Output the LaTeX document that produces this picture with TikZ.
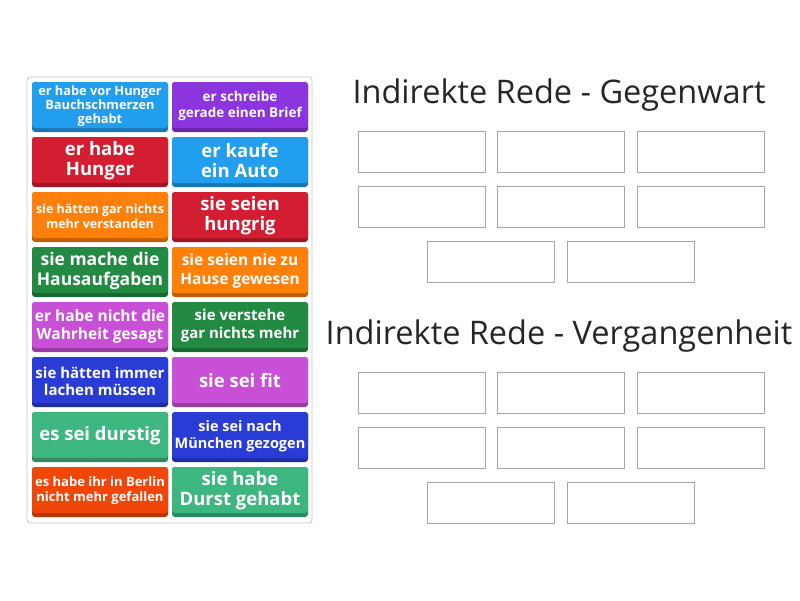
\documentclass[tikz,border=0pt]{standalone}
\usepackage{fontspec}
\setmainfont{Open Sans}
\begin{document}
\begin{tikzpicture}[x=1pt,y=-1pt,
  tilebase/.style={rounded corners=3pt},
  tiletxt/.style={text=white,font=\bfseries,align=center,inner sep=0pt},
  slot/.style={draw=gray!70,line width=0.8pt,minimum width=127pt,minimum height=41pt,anchor=north west,inner sep=0pt},
  title/.style={font=\fontsize{32.5}{38}\selectfont,text=black!85,anchor=center}]
\useasboundingbox (0,0) rectangle (800,600);
\fill[white] (0,0) rectangle (800,600);
\draw[gray!45,rounded corners=3pt,line width=0.8pt] (27,77) rectangle (312,523);
\definecolor{cblue}{RGB}{33,158,238}
\definecolor{cpurple}{RGB}{140,52,222}
\definecolor{cred}{RGB}{210,30,48}
\definecolor{corange}{RGB}{255,128,10}
\definecolor{cgreen}{RGB}{34,138,66}
\definecolor{cmagenta}{RGB}{200,80,215}
\definecolor{cdblue}{RGB}{42,60,214}
\definecolor{cteal}{RGB}{62,182,128}
\definecolor{cored}{RGB}{240,70,10}
\newcommand{\tile}[6]{% x y color size baselineskip text
  \fill[#3!75!black,tilebase] (#1,#2) rectangle ++(136,50);
  \fill[#3,tilebase] (#1,#2) rectangle ++(136,46);
  \node[tiletxt,font=\bfseries\fontsize{#4}{#5}\selectfont] (t#1#2) at (#1+68,#2+24) {#6};}
\tile{32}{82}{cblue}{12.8}{14}{er habe vor Hunger\\Bauchschmerzen\\gehabt}
\tile{172}{82}{cpurple}{13.5}{16}{er schreibe\\gerade einen Brief}
\tile{32}{137}{cred}{18.5}{20}{er habe\\Hunger}
\tile{172}{137}{cblue}{18.5}{20}{er kaufe\\ein Auto}
\tile{32}{192}{corange}{12.5}{15}{sie hätten gar nichts\\mehr verstanden}
\tile{172}{192}{cred}{18.5}{20}{sie seien\\hungrig}
\tile{32}{247}{cgreen}{17.5}{20}{sie mache die\\Hausaufgaben}
\tile{172}{247}{corange}{15.5}{19}{sie seien nie zu\\Hause gewesen}
\tile{32}{302}{cmagenta}{15.5}{18}{er habe nicht die\\Wahrheit gesagt}
\tile{172}{302}{cgreen}{15}{18}{sie verstehe\\gar nichts mehr}
\tile{32}{357}{cdblue}{15}{17}{sie hätten immer\\lachen müssen}
\tile{172}{357}{cmagenta}{18.5}{20}{sie sei fit}
\tile{32}{412}{cteal}{18.5}{20}{es sei durstig}
\tile{172}{412}{cdblue}{14.5}{17}{sie sei nach\\München gezogen}
\tile{32}{467}{cored}{13}{15}{es habe ihr in Berlin\\nicht mehr gefallen}
\tile{172}{467}{cteal}{18.5}{20}{sie habe\\Durst gehabt}
\node[title] (h1) at (559,95) {Indirekte Rede - Gegenwart};
\node[title] (h2) at (559,336) {Indirekte Rede - Vergangenheit};
\foreach \yy/\k in {131/a,372/b}{
  \node[slot] (\k1) at (358,\yy) {};
  \node[slot] (\k2) at (497,\yy) {};
  \node[slot] (\k3) at (637,\yy) {};
  \node[slot] (\k4) at (358,\yy+55) {};
  \node[slot] (\k5) at (497,\yy+55) {};
  \node[slot] (\k6) at (637,\yy+55) {};
  \node[slot] (\k7) at (427,\yy+110) {};
  \node[slot] (\k8) at (567,\yy+110) {};
}
\end{tikzpicture}
\end{document}
